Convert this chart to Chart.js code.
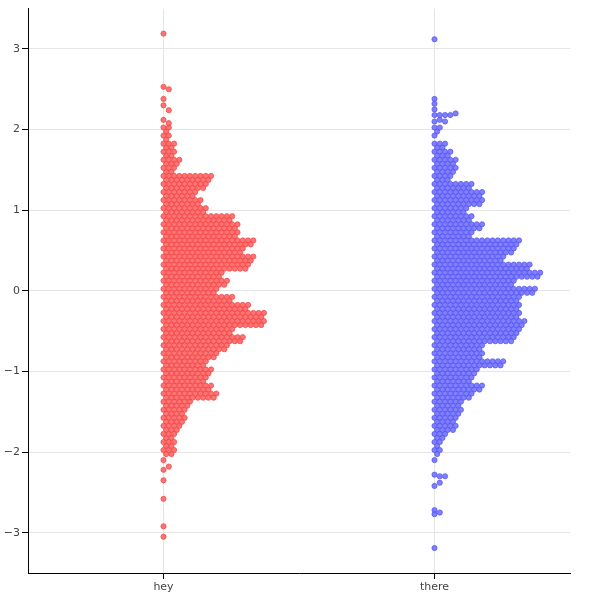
<!DOCTYPE html>
<html lang="en">
<head>
<meta charset="UTF-8" />
<script src="https://cdn.jsdelivr.net/npm/chart.js@4"></script>
<style>body{margin:0;background:#fff}#wrap{width:600px;height:600px}</style>
</head>
<body>
<div id="wrap"><canvas id="myChart"></canvas></div>
<script>
const categories = ['hey', 'there'];
// row bands from 2.0 down to -2.0, step 0.1: swarm width (points per row)
const bandTops = 2.0;
const heyWidths = [2,2,3,3,4,3,10,9,7,8,9,14,15,15,18,16,18,17,12,13,11,14,17,20,20,14,16,13,11,9,10,9,10,11,6,5,5,4,3,3,3];
const thereWidths = [2,1,3,4,5,5,4,8,10,10,7,8,10,8,17,16,14,19,21,16,20,17,17,17,18,17,16,10,10,14,9,8,10,8,6,6,5,5,3,2,2];
// outliers: [value, slot]
const heyTails = [[3.19,0],[2.53,0],[2.5,1],[2.38,0],[2.3,0],[2.24,1],[2.12,0],[2.08,1],[-2.1,0],[-2.18,1],[-2.22,0],[-2.35,0],[-2.58,0],[-2.92,0],[-3.05,0]];
const thereTails = [[3.12,0],[2.38,0],[2.32,0],[2.25,0],[2.18,0],[2.18,1],[2.18,2],[2.18,3],[2.2,4],[2.1,0],[2.12,1],[2.1,2],[-2.1,0],[-2.28,0],[-2.3,1],[-2.3,2],[-2.42,0],[-2.38,1],[-2.72,0],[-2.77,0],[-2.75,1],[-3.19,0]];
const yTicks = [-3,-2,-1,0,1,2,3];

const dx = 0.0195;
function swarm(center, widths, tails) {
  const pts = [];
  widths.forEach((w, i) => {
    const y = bandTops - i * 0.1;
    for (let k = 0; k < w; k++) pts.push({ x: center + k * dx, y: y + 0.025 });
    for (let k = 0; k < w - 1; k++) pts.push({ x: center + (k + 0.5) * dx, y: y - 0.025 });
  });
  tails.forEach(([v, s]) => pts.push({ x: center + s * dx, y: v }));
  return pts;
}

const ctx = document.getElementById('myChart').getContext('2d');
new Chart(ctx, {
  type: 'scatter',
  data: {
    datasets: [
      { label: 'hey', data: swarm(0.5, heyWidths, heyTails), backgroundColor: 'rgba(255,90,90,0.85)', borderColor: 'rgba(240,70,70,0.9)', pointRadius: 2.6, borderWidth: 0.8 },
      { label: 'there', data: swarm(1.5, thereWidths, thereTails), backgroundColor: 'rgba(105,105,255,0.85)', borderColor: 'rgba(85,85,240,0.9)', pointRadius: 2.6, borderWidth: 0.8 },
    ],
  },
  options: {
    responsive: true,
    maintainAspectRatio: false,
    animation: false,
    layout: { padding: { top: 5, right: 30 } },
    plugins: { legend: { display: false }, tooltip: { enabled: false } },
    scales: {
      x: {
        type: 'linear', min: 0, max: 2,
        afterBuildTicks: (s) => { s.ticks = [{ value: 0.5 }, { value: 1.5 }]; },
        afterFit: (s) => { s.height = 27; },
        ticks: { callback: (v) => categories[Math.round(v - 0.5)], color: '#444', font: { size: 11, family: 'DejaVu Sans' }, padding: 2 },
        grid: { color: '#e5e5e5', tickColor: '#000', tickLength: 6 },
        border: { color: '#000' },
      },
      y: {
        min: -3.5, max: 3.5,
        afterBuildTicks: (s) => { s.ticks = yTicks.map((v) => ({ value: v })); },
        afterFit: (s) => { s.width = 28; },
        ticks: { callback: (v) => String(v).replace('-', '\u2212'), color: '#444', font: { size: 11, family: 'DejaVu Sans' }, padding: 2 },
        grid: { color: '#e5e5e5', tickColor: '#000', tickLength: 6 },
        border: { color: '#000' },
      },
    },
  },
});
</script>
</body>
</html>
